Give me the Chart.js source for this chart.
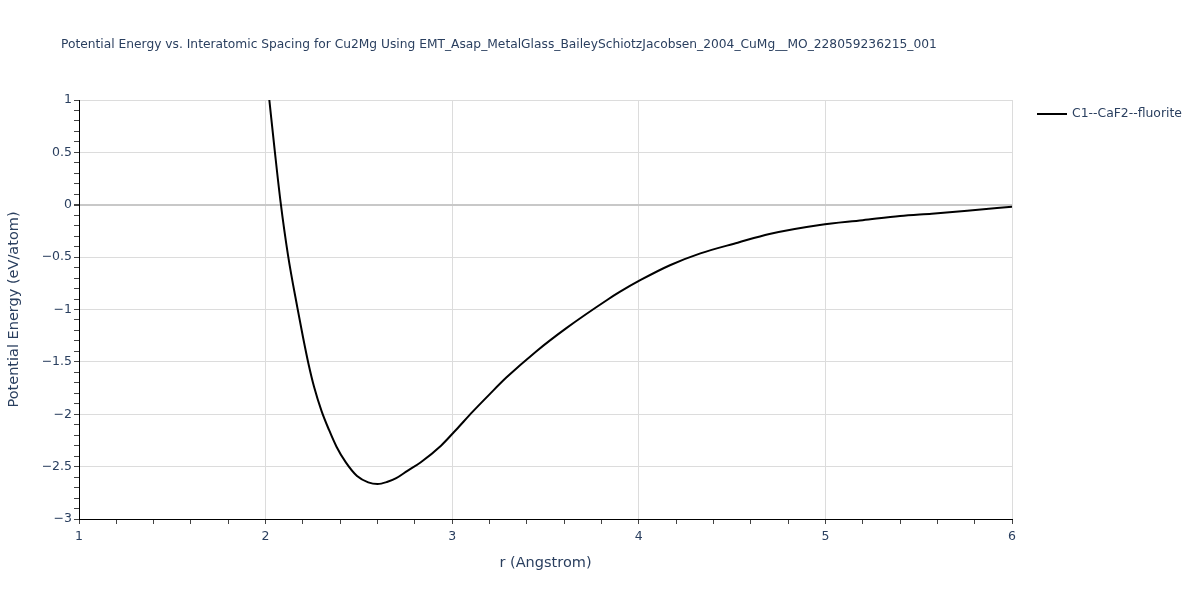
<!DOCTYPE html>
<html>
<head>
<meta charset="utf-8">
<script src="https://cdn.jsdelivr.net/npm/chart.js@4.4.0/dist/chart.umd.min.js"></script>
<style>
  body { margin: 0; background: #fff; }
  #wrap { width: 1200px; height: 600px; }
</style>
</head>
<body>
<div id="wrap"><canvas id="chart" width="1200" height="600"></canvas></div>
<script>
const titleText = 'Potential Energy vs. Interatomic Spacing for Cu2Mg Using EMT_Asap_MetalGlass_BaileySchiotzJacobsen_2004_CuMg__MO_228059236215_001';
const seriesName = 'C1--CaF2--fluorite';

// r (Angstrom)
const rValues = [2.02, 2.05, 2.08, 2.12, 2.17, 2.20, 2.23, 2.26, 2.30, 2.34, 2.38, 2.43, 2.49, 2.55, 2.60,
  2.65, 2.70, 2.76, 2.83, 2.94, 3.02, 3.11, 3.20, 3.29, 3.45, 3.61, 3.83, 3.90, 4.01, 4.17, 4.33,
  4.53, 4.70, 4.97, 5.20, 5.40, 5.57, 5.76, 6.00];
// energy (eV/atom)
const energyValues = [1.00, 0.50, 0.03, -0.48, -0.98, -1.26, -1.52, -1.74, -1.97, -2.15, -2.31, -2.46, -2.59, -2.65, -2.666,
  -2.647, -2.61, -2.54, -2.46, -2.30, -2.15, -1.975, -1.81, -1.65, -1.40, -1.18, -0.909, -0.83, -0.718, -0.575, -0.464,
  -0.362, -0.279, -0.193, -0.148, -0.107, -0.085, -0.058, -0.018];

const textColor = '#2a3f5f';
const fontFamily = '"DejaVu Sans", Verdana, sans-serif';

const points = rValues.map((r, i) => ({ x: r, y: energyValues[i] }));

function isMult(v, step) {
  return Math.abs(v / step - Math.round(v / step)) < 1e-6;
}
function fmt(v) {
  const s = String(Math.round(v * 100) / 100);
  return s.replace('-', '\u2212');
}

const titleAndLegend = {
  id: 'titleAndLegend',
  afterDraw(chart) {
    const c = chart.ctx;
    c.save();
    c.fillStyle = textColor;
    c.font = '12.25px ' + fontFamily;
    c.textBaseline = 'middle';
    c.textAlign = 'left';
    c.fillText(titleText, 61, 45);
    // legend
    c.strokeStyle = '#000';
    c.lineWidth = 2;
    c.beginPath();
    c.moveTo(1037, 114);
    c.lineTo(1067, 114);
    c.stroke();
    c.font = '12.4px ' + fontFamily;
    c.fillText(chart.data.datasets[0].label, 1072, 114);
    c.restore();
  }
};

new Chart(document.getElementById('chart'), {
  type: 'scatter',
  data: {
    datasets: [{
      label: seriesName,
      data: points,
      showLine: true,
      borderColor: '#000',
      backgroundColor: '#000',
      borderWidth: 2,
      pointRadius: 0,
      cubicInterpolationMode: 'monotone'
    }]
  },
  options: {
    responsive: false,
    animation: false,
    layout: { padding: { top: 100, right: 188, bottom: 0, left: 0 } },
    plugins: {
      legend: { display: false },
      title: { display: false },
      tooltip: { enabled: false }
    },
    scales: {
      x: {
        type: 'linear',
        min: 1,
        max: 6,
        afterFit(s) { s.height = 81; },
        ticks: {
          stepSize: 0.2,
          autoSkip: false,
          maxRotation: 0,
          color: textColor,
          font: { family: fontFamily, size: 12.5 },
          padding: 5,
          callback: v => isMult(v, 1) ? fmt(v) : ''
        },
        grid: {
          color: ctx => isMult(ctx.tick.value, 1) ? '#dcdcdc' : 'rgba(0,0,0,0)',
          tickColor: '#444',
          tickLength: 5,
          drawOnChartArea: true
        },
        border: { color: '#000', width: 1 },
        title: {
          display: true,
          text: 'r (Angstrom)',
          color: textColor,
          font: { family: fontFamily, size: 14.5 },
          padding: { top: 4, bottom: 28 }
        }
      },
      y: {
        type: 'linear',
        min: -3,
        max: 1,
        afterFit(s) { s.width = 79; },
        ticks: {
          stepSize: 0.1,
          autoSkip: false,
          color: textColor,
          font: { family: fontFamily, size: 12.5 },
          padding: 2,
          callback: v => isMult(v, 0.5) ? fmt(v) : ''
        },
        grid: {
          color: ctx => {
            const v = ctx.tick.value;
            if (Math.abs(v) < 1e-6) return '#c8c8c8';
            return isMult(v, 0.5) ? '#dcdcdc' : 'rgba(0,0,0,0)';
          },
          lineWidth: ctx => Math.abs(ctx.tick.value) < 1e-6 ? 2 : 1,
          tickColor: '#444',
          tickLength: 5
        },
        border: { color: '#000', width: 1 },
        title: {
          display: true,
          text: 'Potential Energy (eV/atom)',
          color: textColor,
          font: { family: fontFamily, size: 14.5 },
          padding: { top: 6, bottom: 14 }
        }
      }
    }
  },
  plugins: [titleAndLegend]
});
</script>
</body>
</html>
